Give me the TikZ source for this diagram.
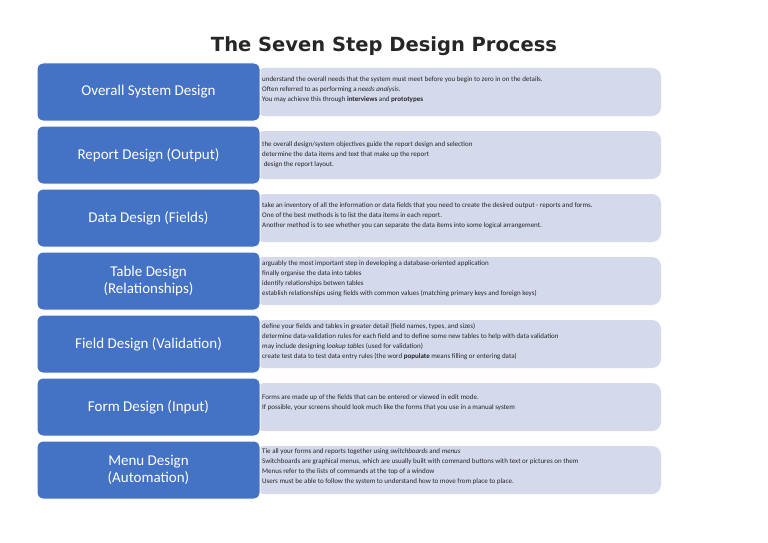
\documentclass[tikz,border=0pt]{standalone}
\usepackage{fontspec}
\setmainfont{Carlito}
\newfontfamily\titlefont{DejaVu Sans}
\definecolor{stepblue}{HTML}{4472C4}
\definecolor{steplight}{HTML}{D5D9EC}
\begin{document}
\begin{tikzpicture}[x=1pt,y=-1pt,
  leftbox/.style={fill=stepblue,draw=white,line width=1pt,rounded corners=6pt,minimum width=223pt,minimum height=58pt,text=white,font=\fontsize{15}{17}\selectfont,align=center,inner sep=2pt},
  rightbox/.style={fill=steplight,draw=none,rounded corners=9pt,minimum width=406pt,minimum height=48pt},
  desc/.style={anchor=west,align=left,font=\fontsize{7}{10}\selectfont,text=black!85,inner sep=0pt}]
\useasboundingbox (0,0) rectangle (768,543);
\node[font=\titlefont\bfseries\fontsize{19.5}{22}\selectfont,text=black!85] (title) at (384,46) {The Seven Step Design Process};
\foreach \i/\lab in {0/{Overall System Design},1/{Report Design (Output)},2/{Data Design (Fields)},3/{Table Design\\(Relationships)},4/{Field Design (Validation)},5/{Form Design (Input)},6/{Menu Design\\(Automation)}}{
  \node[rightbox] (r\i) at (458,92+63*\i) {};
  \node[leftbox] (l\i) at (148.5,92+63*\i) {\lab};
}
\node[desc] (d0) at (262,90) {understand the overall needs that the system must meet before you begin to zero in on the details.\\Often referred to as performing a \emph{needs analysis}.\\You may achieve this through \textbf{interviews} and \textbf{prototypes}};
\node[desc] (d1) at (262,155) {the overall design/system objectives guide the report design and selection\\determine the data items and text that make up the report\\\ design the report layout.};
\node[desc] (d2) at (262,216) {take an inventory of all the information or data fields that you need to create the desired output - reports and forms.\\One of the best methods is to list the data items in each report.\\Another method is to see whether you can separate the data items into some logical arrangement.};
\node[desc] (d3) at (262,279) {arguably the most important step in developing a database-oriented application\\finally organise the data into tables\\identify relationships betwen tables\\establish relationships using fields with common values (matching primary keys and foreign keys)};
\node[desc] (d4) at (262,342) {define your fields and tables in greater detail (field names, types, and sizes)\\determine data-validation rules for each field and to define some new tables to help with data validation\\may include designing \emph{lookup tables} (used for validation)\\create test data to test data entry rules (the word \textbf{populate} means filling or entering data)};
\node[desc] (d5) at (262,403) {Forms are made up of the fields that can be entered or viewed in edit mode.\\If possible, your screens should look much like the forms that you use in a manual system};
\node[desc] (d6) at (262,467) {Tie all your forms and reports together using \emph{switchboards} and \emph{menus}\\Switchboards are graphical menus, which are usually built with command buttons with text or pictures on them\\Menus refer to the lists of commands at the top of a window\\Users must be able to follow the system to understand how to move from place to place.};
\end{tikzpicture}
\end{document}
